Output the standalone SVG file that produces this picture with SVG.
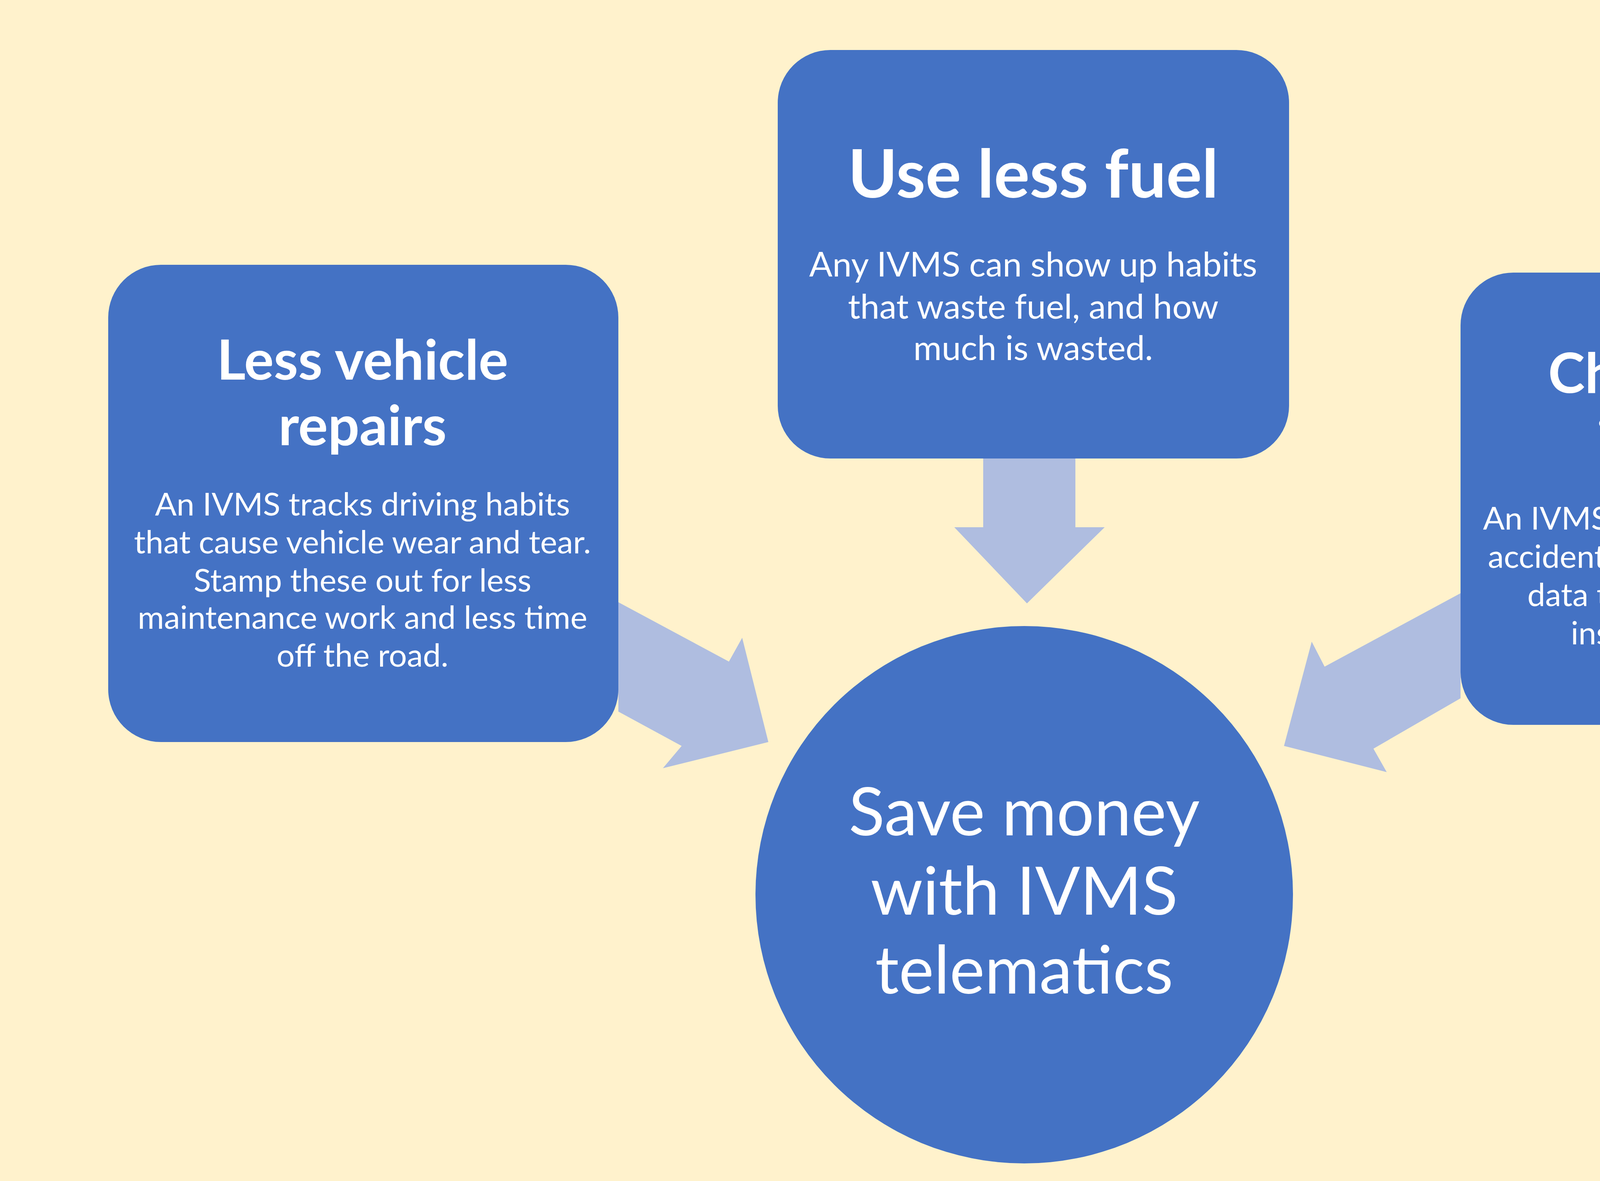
<svg xmlns="http://www.w3.org/2000/svg" width="5291" height="3024" viewBox="0 0 5291 3024">
<style>
.box{fill:#4472C4}
.arr{fill:#AFBDE0}
text{font-family:Lato,"Open Sans",sans-serif;fill:#fff;text-anchor:middle}
.t{font-weight:bold;font-size:142px}
.b{font-size:82px}
.c{font-size:170px}
</style>
<rect width="5291" height="3024" fill="#FFF2CC"/>
<g id="connectors">
<polygon class="arr" points="2517,1170 2753,1170 2753,1350 2828,1350 2629,1545 2443,1350 2517,1350"/>
<polygon class="arr" points="1583,1542 1866,1694 1900,1633 1967,1900 1697,1967 1745,1910 1583,1822"/>
<polygon class="arr" points="3739,1519 3391,1707 3358,1643 3287,1910 3550,1977 3516,1917 3739,1788"/>
</g>
<g id="left">
<rect class="box" x="277" y="678" width="1306" height="1222" rx="135"/>
<text class="t" x="928" y="972">Less vehicle</text>
<text class="t" x="928" y="1140">repairs</text>
<text class="b" x="928" y="1320">An IVMS tracks driving habits</text>
<text class="b" x="928" y="1417">that cause vehicle wear and tear.</text>
<text class="b" x="928" y="1515">Stamp these out for less</text>
<text class="b" x="928" y="1610">maintenance work and less time</text>
<text class="b" x="928" y="1707">off the road.</text>
</g>
<g id="top">
<rect class="box" x="1991" y="128" width="1309" height="1046" rx="135"/>
<text class="t" x="2645" y="506" style="font-size:171px">Use less fuel</text>
<text class="b" x="2645" y="708" style="font-size:88px">Any IVMS can show up habits</text>
<text class="b" x="2645" y="816" style="font-size:88px">that waste fuel, and how</text>
<text class="b" x="2645" y="922" style="font-size:88px">much is wasted.</text>
</g>
<g id="right">
<rect class="box" x="3739" y="698" width="1306" height="1158" rx="135"/>
<text class="t" x="4390" y="1006">Cheaper fleet</text>
<text class="t" x="4390" y="1178">insurance</text>
<text class="b" x="4390" y="1356">An IVMS tracks habits that cause</text>
<text class="b" x="4390" y="1454">accidents. Good brokers use this</text>
<text class="b" x="4390" y="1552">data to negotiate for lower</text>
<text class="b" x="4390" y="1650">insurance premiums.</text>
</g>
<g id="center">
<circle class="box" cx="2622" cy="2291" r="688"/>
<text class="c" x="2622" y="2139">Save money</text>
<text class="c" x="2622" y="2342">with IVMS</text>
<text class="c" x="2622" y="2544">telematics</text>
</g>
</svg>
